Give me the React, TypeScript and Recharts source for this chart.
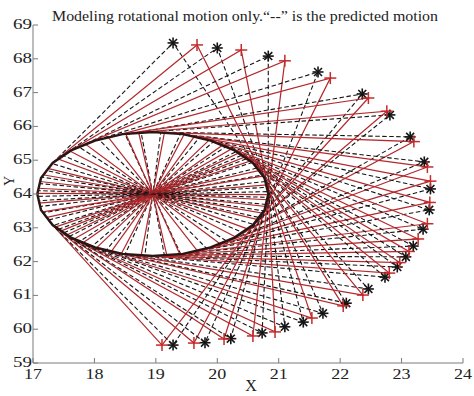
import React from 'react';
import { ScatterChart, Scatter, XAxis, YAxis } from 'recharts';

type P = [number, number];

// Predicted (black, dashed): outer points
const blackTips: P[] = [
  [19.28, 68.47], [20.0, 68.32], [20.83, 68.08], [21.64, 67.61], [22.36, 66.96], [22.81, 66.34],
  [23.14, 65.69], [23.37, 64.95], [23.47, 64.15], [23.45, 63.53], [23.35, 62.96], [23.19, 62.46],
  [23.07, 62.14], [22.93, 61.84], [22.73, 61.54], [22.46, 61.19], [22.1, 60.77], [21.72, 60.47],
  [21.4, 60.21], [21.1, 60.07], [20.73, 59.89], [20.22, 59.72], [19.8, 59.6], [19.28, 59.53],
];
// leading contact point on the inner trace
const blackArmA: P[] = [
  [17.31, 64.9], [17.49, 65.14], [17.75, 65.39], [18.07, 65.62], [18.5, 65.76], [18.76, 65.82],
  [19.08, 65.83], [19.4, 65.78], [19.71, 65.67], [19.94, 65.55], [20.14, 65.4], [20.31, 65.26],
  [20.4, 65.15], [20.49, 65.05], [20.57, 64.93], [20.65, 64.77], [20.74, 64.56], [20.79, 64.37],
  [20.82, 64.2], [20.83, 64.07], [20.83, 63.9], [20.8, 63.69], [20.76, 63.5], [20.69, 63.3],
];
// opposite end of the spoke through the centre
const blackArmB: P[] = [
  [20.59, 63.1], [20.41, 62.86], [20.15, 62.61], [19.83, 62.38], [19.4, 62.24], [19.14, 62.18],
  [18.82, 62.17], [18.5, 62.22], [18.19, 62.33], [17.96, 62.45], [17.76, 62.6], [17.59, 62.74],
  [17.5, 62.85], [17.41, 62.95], [17.33, 63.07], [17.25, 63.23], [17.16, 63.44], [17.11, 63.63],
  [17.08, 63.8], [17.07, 63.93], [17.07, 64.1], [17.1, 64.31], [17.14, 64.5], [17.21, 64.7],
];
// trailing contact point on the inner trace
const blackArmC: P[] = [
  [20.71, 64.64], [20.8, 64.35], [20.83, 63.99], [20.79, 63.61], [20.66, 63.24], [20.5, 62.97],
  [20.31, 62.73], [20.06, 62.53], [19.77, 62.35], [19.53, 62.26], [19.3, 62.2], [19.07, 62.17],
  [18.93, 62.17], [18.79, 62.18], [18.64, 62.19], [18.46, 62.23], [18.24, 62.31], [18.06, 62.39],
  [17.91, 62.48], [17.8, 62.56], [17.66, 62.67], [17.51, 62.83], [17.4, 62.97], [17.28, 63.15],
];

// Actual (red, solid)
const redTips: P[] = [
  [19.67, 68.41], [20.39, 68.26], [21.1, 67.94], [21.84, 67.43], [22.46, 66.84], [22.76, 66.45],
  [23.2, 65.55], [23.42, 64.8], [23.47, 64.38], [23.46, 63.75], [23.42, 63.12], [23.27, 62.67],
  [23.12, 62.3], [22.97, 61.97], [22.8, 61.66], [22.37, 61.01], [22.05, 60.69], [21.54, 60.33],
  [20.94, 59.92], [20.58, 59.8], [20.11, 59.71], [19.62, 59.59], [19.1, 59.53],
];
const redArmA: P[] = [
  [17.4, 65.04], [17.6, 65.27], [17.85, 65.48], [18.23, 65.67], [18.51, 65.78], [18.72, 65.82],
  [19.14, 65.82], [19.46, 65.76], [19.63, 65.71], [19.87, 65.6], [20.09, 65.45], [20.23, 65.33],
  [20.36, 65.22], [20.45, 65.1], [20.54, 64.98], [20.69, 64.7], [20.74, 64.53], [20.81, 64.27],
  [20.83, 63.98], [20.82, 63.83], [20.79, 63.63], [20.74, 63.43], [20.66, 63.24],
];
const redArmB: P[] = [
  [20.5, 62.96], [20.3, 62.73], [20.05, 62.52], [19.67, 62.33], [19.39, 62.22], [19.18, 62.18],
  [18.76, 62.18], [18.44, 62.24], [18.27, 62.29], [18.03, 62.4], [17.81, 62.55], [17.67, 62.67],
  [17.54, 62.78], [17.45, 62.9], [17.36, 63.02], [17.21, 63.3], [17.16, 63.47], [17.09, 63.73],
  [17.07, 64.02], [17.08, 64.17], [17.11, 64.37], [17.16, 64.57], [17.24, 64.76],
];
const redArmC: P[] = [
  [20.76, 64.49], [20.82, 64.19], [20.82, 63.87], [20.76, 63.51], [20.63, 63.18], [20.53, 63.01],
  [20.26, 62.69], [20.01, 62.49], [19.86, 62.4], [19.62, 62.29], [19.36, 62.21], [19.17, 62.18],
  [19.0, 62.17], [18.85, 62.17], [18.7, 62.19], [18.38, 62.26], [18.21, 62.32], [17.97, 62.44],
  [17.73, 62.61], [17.61, 62.72], [17.48, 62.86], [17.36, 63.03], [17.25, 63.22],
];

// Trace of the inner points
const ringPts: P[] = [
  [20.83, 64.0], [20.77, 64.47], [20.58, 64.92], [20.28, 65.29], [19.89, 65.58], [19.44, 65.77],
  [18.95, 65.83], [18.46, 65.77], [18.01, 65.58], [17.62, 65.29], [17.32, 64.92], [17.13, 64.47],
  [17.07, 64.0], [17.13, 63.53], [17.32, 63.08], [17.62, 62.71], [18.01, 62.42], [18.46, 62.23],
  [18.95, 62.17], [19.44, 62.23], [19.89, 62.42], [20.28, 62.71], [20.58, 63.08], [20.77, 63.53],
  [20.83, 64.0],
];

const xTicks = [17, 18, 19, 20, 21, 22, 23, 24];
const yTicks = [59, 60, 61, 62, 63, 64, 65, 66, 67, 68, 69];
const titleText = 'Modeling rotational motion only.\u201C--\u201D is the predicted motion';

const FONT = '"Liberation Serif", "Times New Roman", serif';
const AXIS = '#7a7a7a';
const BLACK = '#151515';
const RED = '#b3282c';

const toPts = (arr: P[]) => arr.map(([x, y]) => ({ x, y }));
const path = (c: P, t: P, a: P, b: P) => toPts([c, t, a, b]);

const NoShape = () => <g />;

const StarShape = (props: any) => {
  const { cx, cy } = props;
  const r = 5.5;
  const d = r * 0.72;
  return (
    <g stroke={BLACK} strokeWidth={1.6}>
      <line x1={cx - r} y1={cy} x2={cx + r} y2={cy} />
      <line x1={cx} y1={cy - r} x2={cx} y2={cy + r} />
      <line x1={cx - d} y1={cy - d} x2={cx + d} y2={cy + d} />
      <line x1={cx - d} y1={cy + d} x2={cx + d} y2={cy - d} />
    </g>
  );
};

const PlusShape = (props: any) => {
  const { cx, cy } = props;
  const r = 6;
  return (
    <g stroke="#c62a2a" strokeWidth={1.5}>
      <line x1={cx - r} y1={cy} x2={cx + r} y2={cy} />
      <line x1={cx} y1={cy - r} x2={cx} y2={cy + r} />
    </g>
  );
};

const XTick = (props: any) => {
  const { x, y, payload } = props;
  return (
    <g>
      <line x1={x} y1={y} x2={x} y2={y - 5} stroke={AXIS} strokeWidth={1} />
      <text x={x} y={y + 16} textAnchor="middle" fontSize={15} fontFamily={FONT} fill="#222"
        textLength={18} lengthAdjust="spacingAndGlyphs">
        {payload.value}
      </text>
    </g>
  );
};

const YTick = (props: any) => {
  const { x, y, payload } = props;
  return (
    <g>
      <line x1={x} y1={y} x2={x + 5} y2={y} stroke={AXIS} strokeWidth={1} />
      <text x={x - 1} y={y + 4} textAnchor="end" fontSize={15} fontFamily={FONT} fill="#222"
        textLength={19} lengthAdjust="spacingAndGlyphs">
        {payload.value}
      </text>
    </g>
  );
};

export default function App() {
  const frames: React.ReactNode[] = [];
  const n = Math.max(blackTips.length, redTips.length);
  for (let i = 0; i < n; i++) {
    if (i < blackTips.length) {
      frames.push(
        <Scatter
          key={`b${i}`}
          data={path(blackArmC[i], blackTips[i], blackArmA[i], blackArmB[i])}
          line={{ stroke: BLACK, strokeWidth: 1.1, strokeDasharray: '4.5 2.5' }}
          shape={NoShape}
          isAnimationActive={false}
        />
      );
    }
    if (i < redTips.length) {
      frames.push(
        <Scatter
          key={`r${i}`}
          data={path(redArmC[i], redTips[i], redArmA[i], redArmB[i])}
          line={{ stroke: RED, strokeWidth: 1.2 }}
          shape={NoShape}
          isAnimationActive={false}
        />
      );
    }
  }

  return (
    <div style={{ position: 'relative', width: 474, height: 396, background: '#fff' }}>
      <style>{'body{margin:0;}'}</style>
      <ScatterChart width={474} height={396} margin={{ top: 25, right: 11, bottom: 0, left: 0 }}>
        <XAxis
          type="number"
          dataKey="x"
          domain={[17, 24]}
          ticks={xTicks}
          height={33}
          tickSize={0}
          tickMargin={0}
          tick={<XTick />}
          axisLine={{ stroke: AXIS }}
          allowDataOverflow
        />
        <YAxis
          type="number"
          dataKey="y"
          domain={[59, 69]}
          ticks={yTicks}
          width={33}
          tickSize={0}
          tickMargin={0}
          tick={<YTick />}
          axisLine={{ stroke: AXIS }}
          allowDataOverflow
        />
        {frames}
        <Scatter
          data={toPts(ringPts)}
          line={{ stroke: '#2a1414', strokeWidth: 2.4 }}
          shape={NoShape}
          isAnimationActive={false}
        />
        <Scatter data={toPts(blackTips)} shape={StarShape} isAnimationActive={false} />
        <Scatter data={toPts(redTips)} shape={PlusShape} isAnimationActive={false} />
      </ScatterChart>
      <svg width={474} height={396} style={{ position: 'absolute', left: 0, top: 0, pointerEvents: 'none' }}>
        <text x={245} y={21} textAnchor="middle" fontSize={15} fontFamily={FONT} fill="#222"
          textLength={386} lengthAdjust="spacingAndGlyphs">
          {titleText}
        </text>
        <text x={251} y={391} textAnchor="middle" fontSize={16} fontFamily={FONT} fill="#222">
          X
        </text>
        <text x={14} y={181} textAnchor="middle" fontSize={14} fontFamily={FONT} fill="#222" transform="rotate(-90 14 181)">
          Y
        </text>
      </svg>
    </div>
  );
}
